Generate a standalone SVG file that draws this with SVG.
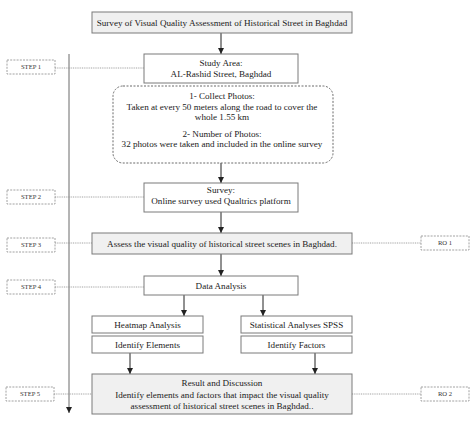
<svg xmlns="http://www.w3.org/2000/svg" width="474" height="426" viewBox="0 0 474 426">
<style>
.box{stroke:#7a7a7a;stroke-width:1;fill:#ffffff}
.gbox{stroke:#7a7a7a;stroke-width:1;fill:#f0f0f0}
.dash{stroke:#6a6a6a;stroke-width:1;fill:#ffffff;stroke-dasharray:2,1.5}
.step{stroke:#8a8a8a;stroke-width:0.8;fill:#ffffff;stroke-dasharray:2,1.2}
.t{font-family:"Liberation Serif","Times New Roman",serif;font-size:9.1px;fill:#1a1a1a;text-anchor:middle}
.s{font-family:"Liberation Serif","Times New Roman",serif;font-size:6.6px;fill:#333;text-anchor:middle}
.arr{stroke:#222;stroke-width:1;fill:none;marker-end:url(#ah)}
.dot{stroke:#8a8a8a;stroke-width:0.8;fill:none;stroke-dasharray:1,0.8}
</style>
<defs>
<marker id="ah" viewBox="0 0 6 6" refX="6" refY="3" markerWidth="6" markerHeight="6" markerUnits="userSpaceOnUse" orient="auto">
<path d="M0,0 L6,3 L0,6 z" fill="#222"/>
</marker>
</defs>
<rect width="474" height="426" fill="#ffffff"/>
<g id="connectors">
<line class="arr" x1="221" y1="33" x2="221" y2="54"/>
<line class="arr" x1="221" y1="163" x2="221" y2="183"/>
<line class="arr" x1="221" y1="212" x2="221" y2="233"/>
<line class="arr" x1="221" y1="254" x2="221" y2="276"/>
<line class="arr" x1="184" y1="295" x2="184" y2="316"/>
<line class="arr" x1="263" y1="295" x2="263" y2="316"/>
<line class="arr" x1="130" y1="353" x2="130" y2="374"/>
<line class="arr" x1="315" y1="353" x2="315" y2="374"/>
<line x1="69" y1="54" x2="69" y2="413" stroke="#444" stroke-width="0.8" marker-end="url(#ah)"/>
<line class="dot" x1="55" y1="68" x2="144" y2="68"/>
<line class="dot" x1="55" y1="197" x2="144" y2="197"/>
<line class="dot" x1="55" y1="243" x2="92" y2="243"/>
<line class="dot" x1="352" y1="243" x2="421" y2="243"/>
<line class="dot" x1="55" y1="287" x2="144" y2="287"/>
<line class="dot" x1="54" y1="394" x2="92" y2="394"/>
<line class="dot" x1="352" y1="394" x2="421" y2="394"/>
</g>
<g id="title">
<rect class="gbox" x="92" y="12" width="260" height="21"/>
<text class="t" x="222" y="25.5">Survey of Visual Quality Assessment of Historical Street in Baghdad</text>
</g>
<g id="study-area">
<rect class="box" x="144" y="54" width="154" height="29"/>
<text class="t" x="221" y="66">Study Area:</text>
<text class="t" x="221" y="77">AL-Rashid Street, Baghdad</text>
</g>
<g id="photos">
<rect class="dash" x="113" y="86" width="220" height="77" rx="10" ry="10"/>
<text class="t" x="222" y="99">1- Collect Photos:</text>
<text class="t" x="222" y="109.5">Taken at every 50 meters along the road to cover the</text>
<text class="t" x="222" y="120">whole 1.55 km</text>
<text class="t" x="222" y="136.5">2- Number of Photos:</text>
<text class="t" x="222" y="147">32 photos were taken and included in the online survey</text>
</g>
<g id="survey">
<rect class="box" x="144" y="183" width="154" height="29"/>
<text class="t" x="221" y="192.5">Survey:</text>
<text class="t" x="221" y="203.5">Online survey used Qualtrics platform</text>
</g>
<g id="assess">
<rect class="gbox" x="92" y="233" width="260" height="21"/>
<text class="t" x="222" y="246.5">Assess the visual quality of historical street scenes in Baghdad.</text>
</g>
<g id="data-analysis">
<rect class="box" x="144" y="276" width="154" height="19"/>
<text class="t" x="221" y="288.5">Data Analysis</text>
</g>
<g id="heatmap">
<rect class="box" x="92" y="316" width="111" height="17"/>
<text class="t" x="147.5" y="327.5">Heatmap Analysis</text>
</g>
<g id="identify-elements">
<rect class="box" x="92" y="336" width="111" height="17"/>
<text class="t" x="147.5" y="347.5">Identify Elements</text>
</g>
<g id="statistical">
<rect class="box" x="241" y="316" width="111" height="17"/>
<text class="t" x="296.5" y="327.5">Statistical Analyses SPSS</text>
</g>
<g id="identify-factors">
<rect class="box" x="241" y="336" width="111" height="17"/>
<text class="t" x="296.5" y="347.5">Identify Factors</text>
</g>
<g id="result">
<rect class="gbox" x="92" y="374" width="260" height="40"/>
<text class="t" x="222" y="386">Result and Discussion</text>
<text class="t" x="222" y="397.5">Identify elements and factors that impact the visual quality</text>
<text class="t" x="222" y="408.5">assessment of historical street scenes in Baghdad..</text>
</g>
<g id="step1">
<rect class="step" x="7" y="60" width="48" height="14"/>
<text class="s" x="31" y="69.3">STEP 1</text>
</g>
<g id="step2">
<rect class="step" x="7" y="190" width="48" height="14"/>
<text class="s" x="31" y="199.3">STEP 2</text>
</g>
<g id="step3">
<rect class="step" x="7" y="238" width="48" height="14"/>
<text class="s" x="31" y="247.3">STEP 3</text>
</g>
<g id="step4">
<rect class="step" x="7" y="280" width="48" height="14"/>
<text class="s" x="31" y="289.3">STEP 4</text>
</g>
<g id="step5">
<rect class="step" x="6" y="387" width="48" height="14"/>
<text class="s" x="30" y="396.3">STEP 5</text>
</g>
<g id="ro1">
<rect class="step" x="421" y="236" width="48" height="14"/>
<text class="s" x="445" y="245.3">RO 1</text>
</g>
<g id="ro2">
<rect class="step" x="421" y="387" width="48" height="14"/>
<text class="s" x="445" y="396.3">RO 2</text>
</g>
</svg>
